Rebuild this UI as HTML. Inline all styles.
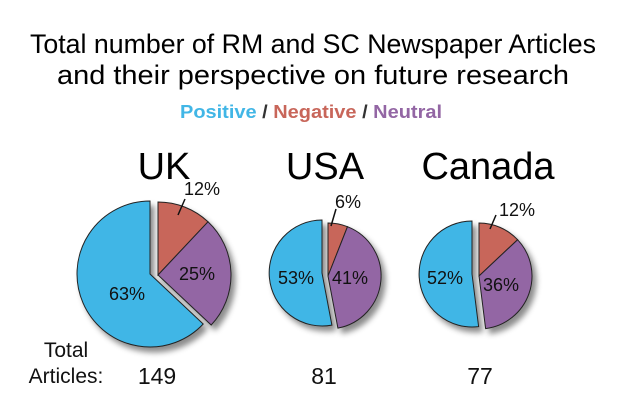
<!DOCTYPE html>
<html><head><meta charset="utf-8"><style>
body{margin:0;background:#fff}
svg{display:block;font-family:"Liberation Sans",sans-serif}
</style></head><body>
<svg width="625" height="417" viewBox="0 0 625 417">
<defs><filter id="sh" x="-20%" y="-20%" width="150%" height="150%"><feDropShadow dx="4" dy="5" stdDeviation="3" flood-color="#000" flood-opacity="0.45"/></filter></defs>
<text x="313" y="53" text-anchor="middle" font-size="26.5" textLength="566" lengthAdjust="spacingAndGlyphs">Total number of RM and SC Newspaper Articles</text>
<text x="313" y="84" text-anchor="middle" font-size="26.5" textLength="512" lengthAdjust="spacingAndGlyphs">and their perspective on future research</text>
<text x="311" y="118" text-anchor="middle" font-size="18" font-weight="bold" textLength="262" lengthAdjust="spacingAndGlyphs"><tspan fill="#41b6e6">Positive</tspan><tspan fill="#333"> / </tspan><tspan fill="#c8665a">Negative</tspan><tspan fill="#333"> / </tspan><tspan fill="#9366a4">Neutral</tspan></text>
<text x="164" y="179" text-anchor="middle" font-size="38">UK</text>
<text x="325" y="179" text-anchor="middle" font-size="38">USA</text>
<text x="488" y="179" text-anchor="middle" font-size="38">Canada</text>
<g stroke="#222" stroke-width="1" filter="url(#sh)">
<path d="M150,274 L203.2,324 A73,73 0 1 1 150,201 Z" fill="#41b6e6"/>
<path d="M158,275 L158,202 A73,73 0 0 1 208,221.8 Z" fill="#c8665a"/>
<path d="M158,275 L208,221.8 A73,73 0 0 1 211.2,325 Z" fill="#9366a4"/>
<path d="M322,273 L331.9,325.1 A53,53 0 1 1 322,220 Z" fill="#41b6e6"/>
<path d="M328,276 L328,223 A53,53 0 0 1 347.5,226.7 Z" fill="#c8665a"/>
<path d="M328,276 L347.5,226.7 A53,53 0 0 1 337.9,328.1 Z" fill="#9366a4"/>
<path d="M472,274 L478.6,326.6 A53,53 0 1 1 472,221 Z" fill="#41b6e6"/>
<path d="M479,276 L479,223 A53,53 0 0 1 517.6,239.7 Z" fill="#c8665a"/>
<path d="M479,276 L517.6,239.7 A53,53 0 0 1 485.6,328.6 Z" fill="#9366a4"/>
</g>
<g stroke="#111" stroke-width="1.5">
<line x1="185" y1="199" x2="178" y2="215"/>
<line x1="336" y1="209" x2="331" y2="226"/>
<line x1="496" y1="215" x2="490" y2="229"/>
</g>
<g font-size="18" fill="#111">
<text x="184" y="195">12%</text>
<text x="335" y="208">6%</text>
<text x="499" y="216">12%</text>
<text x="127" y="300" text-anchor="middle">63%</text>
<text x="197" y="280" text-anchor="middle">25%</text>
<text x="296" y="284" text-anchor="middle">53%</text>
<text x="350" y="284" text-anchor="middle">41%</text>
<text x="445" y="284" text-anchor="middle">52%</text>
<text x="501" y="291" text-anchor="middle">36%</text>
</g>
<g font-size="21" fill="#111">
<text x="66" y="357" text-anchor="middle">Total</text>
<text x="66" y="383" text-anchor="middle">Articles:</text>
<text x="157" y="384" text-anchor="middle" font-size="23">149</text>
<text x="324" y="384" text-anchor="middle" font-size="23">81</text>
<text x="480" y="384" text-anchor="middle" font-size="23">77</text>
</g>
</svg>
</body></html>
